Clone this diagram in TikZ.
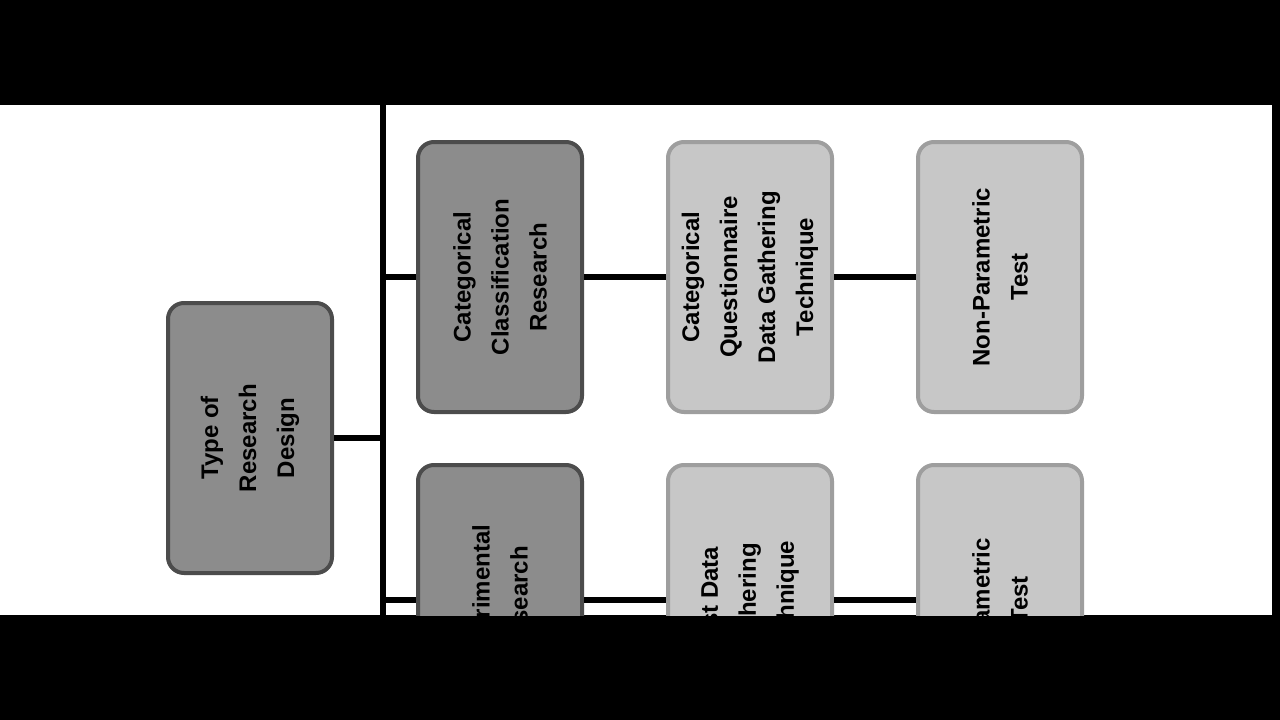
\documentclass[tikz,border=0pt]{standalone}
\usepackage{fontspec}
\setmainfont{Liberation Sans}
\begin{document}
\begin{tikzpicture}[x=1pt,y=-1pt,
 box/.style={rounded corners=16pt,line width=4pt,minimum width=270pt,minimum height=164pt,rotate=90,align=center,font=\bfseries\fontsize{24}{38}\selectfont,inner sep=0pt},
 dark/.style={box,fill=black!45,draw=black!70},
 light/.style={box,fill=black!22,draw=black!38},
 conn/.style={line width=6pt}]
\fill[black] (0,0) rectangle (1280,720);
\useasboundingbox (0,0) rectangle (1280,720);
\fill[white] (0,105) rectangle (1272,615);
\begin{scope}
\clip (0,105) rectangle (1272,615);
\node[dark] (root) at (250,438) {Type of\\Research\\Design};
\node[dark] (a1) at (500,277) {Categorical\\Classification\\Research};
\node[light] (a2) at (750,277) {Categorical\\Questionnaire\\Data Gathering\\Technique};
\node[light] (a3) at (1000,277) {Non-Parametric\\Test};
\node[dark] (b1) at (500,600) {Experimental\\Research};
\node[light] (b2) at (750,600) {Test Data\\Gathering\\Technique};
\node[light] (b3) at (1000,600) {Parametric\\Test};
\coordinate (t) at (383,105);
\coordinate (b) at (383,615);
\draw[conn] (t) -- (b);
\draw[conn] (root.south) -- (root.south -| t);
\draw[conn] (a1.north -| t) -- (a1.north);
\draw[conn] (a1.south) -- (a2.north);
\draw[conn] (a2.south) -- (a3.north);
\draw[conn] (b1.north -| t) -- (b1.north);
\draw[conn] (b1.south) -- (b2.north);
\draw[conn] (b2.south) -- (b3.north);
\end{scope}
\node[anchor=west,text=white,font=\bfseries\fontsize{13}{15}\selectfont,inner sep=0pt] (wm) at (7,600) {Screencast-O-Matic.com};
\end{tikzpicture}
\end{document}
